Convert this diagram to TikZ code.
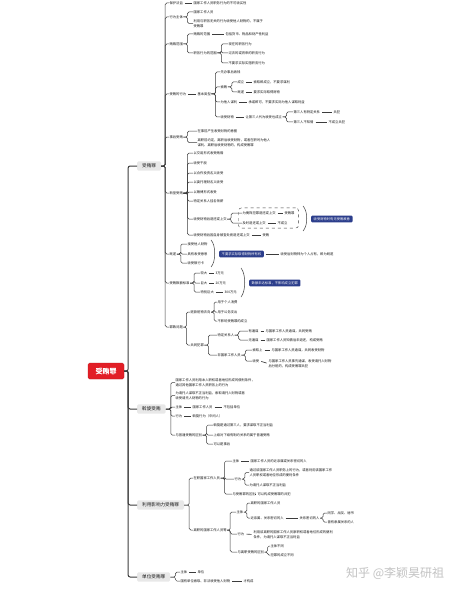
\documentclass[tikz,border=0pt]{standalone}
\usepackage{fontspec}
\setmainfont{Noto Sans CJK SC}
\newfontfamily\rootfont[FakeBold=1.5]{Noto Sans CJK SC}
\usetikzlibrary{fit}
\definecolor{mmred}{RGB}{226,30,38}
\definecolor{mmblue}{RGB}{44,62,140}
\definecolor{mmline}{RGB}{60,60,60}
\definecolor{mmgray}{RGB}{232,232,232}
\definecolor{mmtext}{RGB}{20,20,20}
\definecolor{mmwm}{RGB}{195,195,195}
\newcommand\mmbr[3]{\draw[br] (#1.east) -- ++(#2,0) |- (#3.west);}
\newcommand\mmln[2]{\draw[ln] (#1.east) -- (#2.west);}
\begin{document}
\begin{tikzpicture}[x=1pt,y=-1pt,
 t/.style={anchor=west,inner sep=0.4pt,font=\fontsize{3.3}{4.8}\selectfont,text=mmtext,align=left},
 br/.style={draw=mmline,line width=0.5pt,rounded corners=1.5pt},
 ln/.style={draw=mmline,line width=0.65pt,shorten <=1.5pt,shorten >=1.5pt},
 mainbr/.style={draw=mmline,line width=1pt,rounded corners=2pt},
 mbox/.style={anchor=west,fill=mmgray,rounded corners=1.5pt,inner xsep=5pt,inner ysep=2.6pt,font=\fontsize{4.6}{5}\selectfont,text=mmtext},
 bbox/.style={anchor=west,fill=mmblue,text=white,rounded corners=1pt,inner xsep=2.5pt,inner ysep=1.8pt,font=\fontsize{3.3}{4}\selectfont},
 paren/.style={draw=mmline,line width=0.5pt},
]
\useasboundingbox[fill=white] (0,0) rectangle (474,591);

% root and main branches
\node[fill=mmred,draw=mmred!80!black,line width=0.3pt,text=white,rounded corners=1.5pt,minimum width=36pt,minimum height=16pt,inner sep=0pt,font=\rootfont\fontsize{7}{8}\selectfont] (root) at (106,371) {受贿罪};
\node[mbox] (A) at (137,166) {受贿罪};
\node[mbox] (B) at (137,409) {斡旋受贿};
\node[mbox] (C) at (137,505) {利用影响力受贿罪};
\node[mbox] (D) at (137,577) {单位受贿罪};
\foreach \m in {A,B,C,D} {\draw[mainbr] (root.east) -- ++(4,0) |- (\m.west);}

% ---------- A subtree ----------
\node[t] (a1) at (169,3) {保护法益};
\node[t] (a1c) at (193,3) {国家工作人员职务行为的不可收买性};
\mmln{a1}{a1c}
\node[t] (a2) at (169,17) {行为主体};
\node[t] (a2a) at (193,12) {国家工作人员};
\node[t] (a2b) at (193,23.5) {利用与职务无关的行为收受他人财物的，不属于\\受贿罪};
\node[t] (a3) at (169,44) {贿赂范围};
\node[t] (a3a) at (193,34) {贿赂的范围};
\node[t] (a3a1) at (225,34) {包括货币、物品和财产性利益};
\mmln{a3a}{a3a1}
\node[t] (a3b) at (193,53) {职务行为的范围};
\node[t] (a3b1) at (228,44) {现在的职务行为};
\node[t] (a3b2) at (228,53) {过去的或将来的职务行为};
\node[t] (a3b3) at (228,63) {不要求实际实施职务行为};
\node[t] (a4) at (169,94) {受贿的行为};
\node[t] (a4c) at (197,94) {基本类型};
\mmln{a4}{a4c}
\node[t] (a4a) at (220,72) {先办事后收钱};
\node[t] (a4b) at (220,87) {索贿};
\node[t] (a4b1) at (237,82) {成立};
\node[t] (a4b1c) at (253,82) {索取即成立，不要求谋利};
\mmln{a4b1}{a4b1c}
\node[t] (a4b2) at (237,92) {既遂};
\node[t] (a4b2c) at (253,92) {要求实际取得财物};
\mmln{a4b2}{a4b2c}
\node[t] (a4e) at (220,102) {为他人谋利};
\node[t] (a4e1) at (248,102) {承诺即可，不要求实际为他人谋取利益};
\mmln{a4e}{a4e1}
\node[t] (a4d) at (220,117) {收受财物};
\node[t] (a4d1) at (245,117) {让第三人代为收受也成立};
\mmln{a4d}{a4d1}
\node[t] (a4d1a) at (293,112) {第三人有特定关系};
\node[t] (a4d1ar) at (333,112) {共犯};
\mmln{a4d1a}{a4d1ar}
\node[t] (a4d1b) at (293,122) {第三人不知情};
\node[t] (a4d1br) at (328,122) {不成立共犯};
\mmln{a4d1b}{a4d1br}
\node[t] (a5) at (169,137) {事后受贿};
\node[t] (a5a) at (197,131) {在事前产生收受财物的意图};
\node[t] (a5b) at (197,142.5) {离职前约定，离职后收受财物，或者在职时为他人\\谋利、离职后收受财物的，构成受贿罪};
\node[t] (a6) at (169,193) {新型受贿};
\node[t] (a6a) at (193,153) {以交易形式收受贿赂};
\node[t] (a6b) at (193,163) {收受干股};
\node[t] (a6c) at (193,173) {以合作投资名义收受};
\node[t] (a6d) at (193,182) {以委托理财名义收受};
\node[t] (a6e) at (193,192) {以赌博形式收受};
\node[t] (a6f) at (193,201) {特定关系人挂名领薪};
\node[t] (a6g) at (193,219) {收受财物后退还或上交};
\node[t] (a6g1) at (242,213) {为掩饰犯罪退还或上交};
\node[t] (a6g1r) at (284,213) {受贿罪};
\mmln{a6g1}{a6g1r}
\node[t] (a6g2) at (242,223) {及时退还或上交};
\node[t] (a6g2r) at (277,223) {不成立};
\mmln{a6g2}{a6g2r}
\node[draw=mmline,dashed,line width=0.4pt,rounded corners=3pt,inner xsep=3.5pt,inner ysep=3pt,fit=(a6g1)(a6g1r)(a6g2)] (dbox) {};
\draw[paren] (303,206) .. controls (308,211) and (308,226) .. (303,231);
\node[bbox] (bb1) at (311,219) {收受财物时有无受贿故意};
\node[t] (a6h) at (193,235) {收受财物后因自身被查处而退还或上交};
\node[t] (a6hr) at (262,235) {受贿};
\mmln{a6h}{a6hr}
\node[t] (a7) at (169,254) {既遂};
\node[t] (a7a) at (187,244) {接受他人财物};
\node[t] (a7b) at (187,254) {具有收受意思};
\node[t] (a7c) at (187,263) {收受银行卡};
\draw[paren] (211,240) .. controls (216,245) and (216,262) .. (211,267);
\node[bbox] (bb2) at (219,254) {不要求实际取得财物所有权};
\node[t] (bb2t) at (280,254) {收受后财物转为个人占有，即为既遂};
\mmln{bb2}{bb2t}
\node[t] (a8) at (169,283) {受贿数额标准};
\node[t] (a8a) at (200,273) {较大};
\node[t] (a8ar) at (215,273) {3万元};
\mmln{a8a}{a8ar}
\node[t] (a8b) at (200,283) {巨大};
\node[t] (a8br) at (215,283) {20万元};
\mmln{a8b}{a8br}
\node[t] (a8c) at (200,292) {特别巨大};
\node[t] (a8cr) at (224,292) {300万元};
\mmln{a8c}{a8cr}
\draw[paren] (241,268) .. controls (246,274) and (246,291) .. (241,297);
\node[bbox] (bb3) at (249,283) {数额未达标准，不影响成立犯罪};
\node[t] (a9) at (169,327) {罪数问题};
\node[t] (a9a) at (190,312) {赃款赃物去向};
\node[t] (a9a1) at (217,302) {用于个人消费};
\node[t] (a9a2) at (217,312) {用于公务支出};
\node[t] (a9a3) at (217,321) {不影响受贿罪的成立};
\node[t] (a9b) at (190,345) {共同犯罪};
\node[t] (a9b1) at (217,335) {特定关系人};
\node[t] (a9b1a) at (248,331) {有通谋};
\node[t] (a9b1ar) at (265,331) {与国家工作人员通谋，共同受贿};
\mmln{a9b1a}{a9b1ar}
\node[t] (a9b1b) at (248,340) {无通谋};
\node[t] (a9b1br) at (266,340) {国家工作人员知情后未退还，构成受贿};
\mmln{a9b1b}{a9b1br}
\node[t] (a9b2) at (217,355) {非国家工作人员};
\node[t] (a9b2a) at (252,350) {索取上};
\node[t] (a9b2ar) at (271,350) {与国家工作人员通谋，共同收受财物};
\mmln{a9b2a}{a9b2ar}
\node[t] (a9b2b) at (252,361) {收受};
\node[t] (a9b2br) at (268,363.5) {与国家工作人员事先通谋，收受请托人财物\\后分赃的，构成受贿罪共犯};
\mmln{a9b2b}{a9b2br}

\foreach \c in {a1,a2,a3,a4,a5,a6,a7,a8,a9} {\mmbr{A}{4}{\c}}
\foreach \c in {a2a,a2b} {\mmbr{a2}{4}{\c}}
\foreach \c in {a3a,a3b} {\mmbr{a3}{4}{\c}}
\foreach \c in {a3b1,a3b2,a3b3} {\mmbr{a3b}{4}{\c}}
\foreach \c in {a4a,a4b,a4e,a4d} {\mmbr{a4c}{4}{\c}}
\foreach \c in {a4b1,a4b2} {\mmbr{a4b}{4}{\c}}
\foreach \c in {a4d1a,a4d1b} {\mmbr{a4d1}{4}{\c}}
\foreach \c in {a5a,a5b} {\mmbr{a5}{4}{\c}}
\foreach \c in {a6a,a6b,a6c,a6d,a6e,a6f,a6g,a6h} {\mmbr{a6}{4}{\c}}
\foreach \c in {a6g1,a6g2} {\mmbr{a6g}{4}{\c}}
\foreach \c in {a7a,a7b,a7c} {\mmbr{a7}{4}{\c}}
\foreach \c in {a8a,a8b,a8c} {\mmbr{a8}{4}{\c}}
\foreach \c in {a9a,a9b} {\mmbr{a9}{3}{\c}}
\foreach \c in {a9a1,a9a2,a9a3} {\mmbr{a9a}{3}{\c}}
\foreach \c in {a9b1,a9b2} {\mmbr{a9b}{4}{\c}}
\foreach \c in {a9b1a,a9b1b} {\mmbr{a9b1}{4}{\c}}
\foreach \c in {a9b2a,a9b2b} {\mmbr{a9b2}{4}{\c}}

% ---------- B subtree ----------
\node[t] (b1) at (175,382.5) {国家工作人员利用本人职权或者地位形成的便利条件，\\通过其他国家工作人员职务上的行为};
\node[t] (b2) at (175,395.5) {为请托人谋取不正当利益，索取请托人财物或者\\收受请托人财物的行为};
\node[t] (b3) at (175,407) {主体};
\node[t] (b3a) at (192,407) {国家工作人员};
\node[t] (b3b) at (223,407) {不包括单位};
\mmln{b3}{b3a}
\mmln{b3a}{b3b}
\node[t] (b4) at (175,416) {行为};
\node[t] (b4a) at (192,416) {斡旋行为（中间人）};
\mmln{b4}{b4a}
\node[t] (b5) at (175,435) {与普通受贿的区别};
\node[t] (b5a) at (213,425) {斡旋是通过第三人，要求谋取不正当利益};
\node[t] (b5b) at (213,435) {上级对下级有制约关系的属于普通受贿};
\node[t] (b5c) at (213,444) {可以是事后};
\foreach \c in {b1,b2,b3,b4,b5} {\mmbr{B}{5}{\c}}
\foreach \c in {b5a,b5b,b5c} {\mmbr{b5}{4}{\c}}

% ---------- C subtree ----------
\node[t] (c1) at (193,478) {在职国家工作人员};
\node[t] (c1a) at (232,461) {主体};
\node[t] (c1ar) at (250,461) {国家工作人员的近亲属或关系密切的人};
\mmln{c1a}{c1ar}
\node[t] (c1b) at (234,479) {行为};
\node[t] (c1b1) at (249,472.5) {通过该国家工作人员职务上的行为，或者利用该国家工作\\人员职权或者地位形成的便利条件};
\node[t] (c1b2) at (249,485) {为请托人谋取不正当利益};
\node[t] (c1c) at (232,494) {与受贿罪的区别};
\node[t] (c1cr) at (257,494) {可以构成受贿罪的共犯};
\mmln{c1c}{c1cr}
\node[t] (c2) at (193,530) {离职的国家工作人员等};
\node[t] (c2a) at (236,512) {主体};
\node[t] (c2a1) at (250,503) {离职的国家工作人员};
\node[t] (c2a2) at (250,518) {近亲属、关系密切的人};
\node[t] (c2a2r) at (299,518) {关系密切的人};
\mmln{c2a2}{c2a2r}
\node[t] (c2a2r1) at (327,513) {同学、战友、秘书};
\node[t] (c2a2r2) at (327,522) {曾有隶属关系的人};
\node[t] (c2b) at (237,534) {行为};
\node[t] (c2br) at (253,534.5) {利用该离职的国家工作人员原职权或者地位形成的便利\\条件，为请托人谋取不正当利益};
\mmln{c2b}{c2br}
\node[t] (c2c) at (237,552) {与离职受贿的区别};
\node[t] (c2c1) at (270,546) {主体不同};
\node[t] (c2c2) at (270,555) {犯罪的成立不同};
\foreach \c in {c1,c2} {\mmbr{C}{5}{\c}}
\foreach \c in {c1a,c1b,c1c} {\mmbr{c1}{4}{\c}}
\foreach \c in {c1b1,c1b2} {\mmbr{c1b}{3}{\c}}
\foreach \c in {c2a,c2b,c2c} {\mmbr{c2}{3}{\c}}
\foreach \c in {c2a1,c2a2} {\mmbr{c2a}{3}{\c}}
\foreach \c in {c2a2r1,c2a2r2} {\mmbr{c2a2r}{3}{\c}}
\foreach \c in {c2c1,c2c2} {\mmbr{c2c}{3}{\c}}

% ---------- D subtree ----------
\node[t] (d1) at (180,572) {主体};
\node[t] (d1r) at (197,572) {单位};
\mmln{d1}{d1r}
\node[t] (d2) at (180,581) {国有单位索取、非法收受他人财物};
\node[t] (d2r) at (243,581) {才构成};
\mmln{d2}{d2r}
\foreach \c in {d1,d2} {\mmbr{D}{5}{\c}}

% watermark
\node[anchor=west,inner sep=0pt,text=mmwm,font=\fontsize{12}{13}\selectfont] (wm) at (346,573) {知乎 @李颖昊研祖};
\end{tikzpicture}
\end{document}
